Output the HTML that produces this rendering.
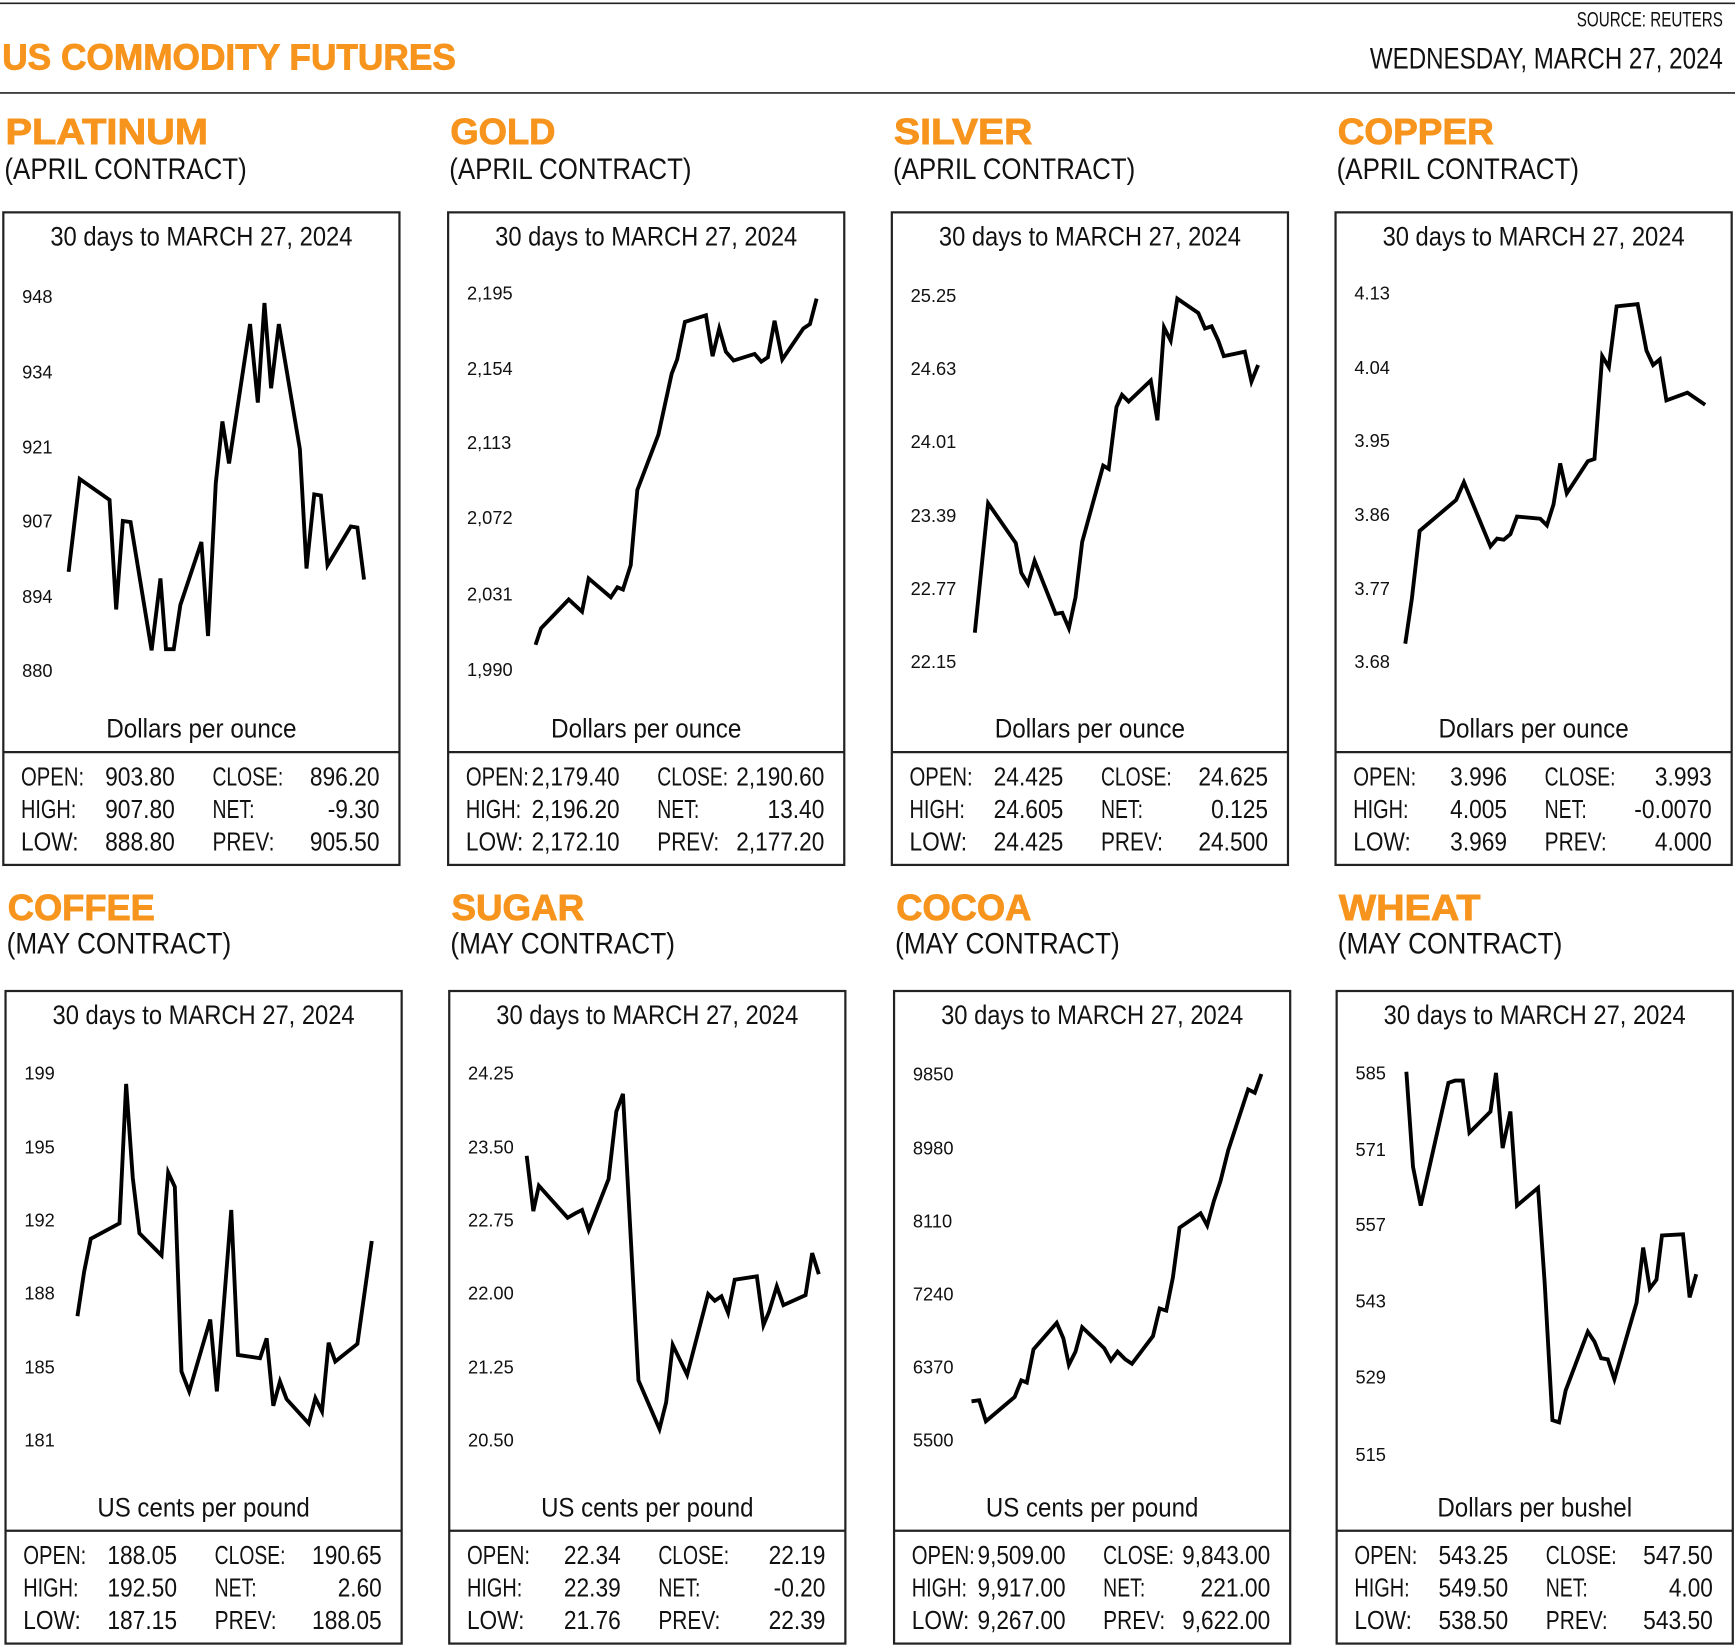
<!DOCTYPE html>
<html><head><meta charset="utf-8"><style>
html,body{margin:0;padding:0;background:#fff;}
svg{display:block;}
text{font-family:"Liberation Sans",sans-serif;fill:#111;}
.t{font-family:"Liberation Sans",sans-serif;font-weight:bold;fill:#F7941D;stroke:#F7941D;stroke-width:0.8;}
</style></head><body>
<svg id="s" width="1735" height="1648" viewBox="0 0 1568 1490" preserveAspectRatio="none" xmlns="http://www.w3.org/2000/svg">
<line x1="0" y1="3" x2="1568" y2="3" stroke="#222" stroke-width="1.5"/>
<line x1="0" y1="84" x2="1568" y2="84" stroke="#222" stroke-width="1.5"/>
<text class="t" x="2" y="63" font-size="33" textLength="410" lengthAdjust="spacingAndGlyphs">US COMMODITY FUTURES</text>
<text x="1557" y="24" font-size="19" text-anchor="end" textLength="132" lengthAdjust="spacingAndGlyphs">SOURCE: REUTERS</text>
<text x="1557" y="62" font-size="27" text-anchor="end" textLength="319" lengthAdjust="spacingAndGlyphs">WEDNESDAY, MARCH 27, 2024</text>
<g id="g"></g>
</svg>
<script>
var P=[
{x:3,y:192,n:"PLATINUM",nl:183,c:"(APRIL CONTRACT)",u:"Dollars per ounce",ul:172,yl:["948","934","921","907","894","880"],yt:[268,336,404,471,539,606],
st:[["OPEN:","903.80","CLOSE:","896.20"],["HIGH:","907.80","NET:","-9.30"],["LOW:","888.80","PREV:","905.50"]],
d:[[62,517],[72,433],[99,452],[105,551],[111,471],[118,472],[137,588],[145,523],[150,587],[157,587],[163,547],[182,490],[188,575],[195,437],[201,381],[207,419],[226,293],[233,364],[239,274],[245,351],[252,293],[271,406],[277,514],[284,447],[290,448],[296,511],[317,476],[323,477],[329,524]]},
{x:405,y:192,n:"GOLD",nl:95,c:"(APRIL CONTRACT)",u:"Dollars per ounce",ul:172,yl:["2,195","2,154","2,113","2,072","2,031","1,990"],yt:[265,333,400,468,537,605],
st:[["OPEN:","2,179.40","CLOSE:","2,190.60"],["HIGH:","2,196.20","NET:","13.40"],["LOW:","2,172.10","PREV:","2,177.20"]],
d:[[484,583],[489,568],[514,542],[526,553],[532,523],[552,540],[558,531],[563,533],[570,511],[576,443],[595,393],[607,338],[612,325],[619,291],[638,285],[644,322],[650,297],[656,318],[663,326],[682,320],[688,327],[694,323],[700,290],[707,325],[726,297],[732,293],[738,270]]},
{x:806,y:192,n:"SILVER",nl:125,c:"(APRIL CONTRACT)",u:"Dollars per ounce",ul:172,yl:["25.25","24.63","24.01","23.39","22.77","22.15"],yt:[267,333,399,466,532,598],
st:[["OPEN:","24.425","CLOSE:","24.625"],["HIGH:","24.605","NET:","0.125"],["LOW:","24.425","PREV:","24.500"]],
d:[[881,572],[893,455],[918,491],[923,518],[929,528],[935,507],[954,555],[960,554],[966,568],[972,540],[978,490],[997,421],[1002,424],[1009,368],[1014,357],[1020,363],[1040,344],[1046,380],[1052,296],[1058,308],[1064,270],[1083,283],[1089,297],[1095,295],[1101,308],[1106,322],[1125,318],[1131,345],[1137,330]]},
{x:1207,y:192,n:"COPPER",nl:141,c:"(APRIL CONTRACT)",u:"Dollars per ounce",ul:172,yl:["4.13","4.04","3.95","3.86","3.77","3.68"],yt:[265,332,398,465,532,598],
st:[["OPEN:","3.996","CLOSE:","3.993"],["HIGH:","4.005","NET:","-0.0070"],["LOW:","3.969","PREV:","4.000"]],
d:[[1270,582],[1276,541],[1283,480],[1316,452],[1323,436],[1347,494],[1353,487],[1359,488],[1365,483],[1371,467],[1392,469],[1398,475],[1404,456],[1410,419],[1416,446],[1435,417],[1441,415],[1448,322],[1454,332],[1461,277],[1480,275],[1488,317],[1494,330],[1500,325],[1506,362],[1525,355],[1541,366]]},
{x:5,y:896,n:"COFFEE",nl:133,c:"(MAY CONTRACT)",u:"US cents per pound",ul:192,yl:["199","195","192","188","185","181"],yt:[970,1037,1103,1169,1236,1302],
st:[["OPEN:","188.05","CLOSE:","190.65"],["HIGH:","192.50","NET:","2.60"],["LOW:","187.15","PREV:","188.05"]],
d:[[70,1190],[76,1150],[82,1120],[108,1106],[114,980],[120,1065],[126,1115],[146,1135],[152,1060],[158,1073],[164,1240],[171,1258],[190,1193],[196,1258],[203,1170],[209,1094],[215,1225],[235,1228],[241,1210],[247,1271],[253,1249],[259,1265],[279,1287],[285,1264],[291,1276],[297,1214],[303,1231],[323,1215],[336,1122]]},
{x:406,y:896,n:"SUGAR",nl:120,c:"(MAY CONTRACT)",u:"US cents per pound",ul:192,yl:["24.25","23.50","22.75","22.00","21.25","20.50"],yt:[970,1037,1103,1169,1236,1302],
st:[["OPEN:","22.34","CLOSE:","22.19"],["HIGH:","22.39","NET:","-0.20"],["LOW:","21.76","PREV:","22.39"]],
d:[[476,1045],[482,1095],[487,1072],[513,1101],[520,1097],[526,1094],[532,1112],[550,1066],[557,1005],[563,989],[577,1248],[596,1292],[602,1268],[608,1216],[621,1243],[640,1170],[646,1176],[652,1172],[658,1187],[664,1157],[684,1154],[690,1198],[695,1186],[702,1163],[708,1180],[728,1171],[734,1133],[740,1152]]},
{x:808,y:896,n:"COCOA",nl:122,c:"(MAY CONTRACT)",u:"US cents per pound",ul:192,yl:["9850","8980","8110","7240","6370","5500"],yt:[971,1038,1104,1170,1236,1302],
st:[["OPEN:","9,509.00","CLOSE:","9,843.00"],["HIGH:","9,917.00","NET:","221.00"],["LOW:","9,267.00","PREV:","9,622.00"]],
d:[[878,1267],[885,1266],[891,1285],[917,1263],[923,1248],[928,1250],[934,1220],[955,1196],[961,1210],[966,1234],[972,1222],[978,1200],[998,1219],[1004,1230],[1010,1222],[1017,1229],[1023,1233],[1042,1208],[1048,1183],[1054,1185],[1060,1155],[1066,1110],[1085,1097],[1091,1108],[1097,1086],[1103,1068],[1110,1040],[1128,985],[1134,988],[1140,971]]},
{x:1208,y:896,n:"WHEAT",nl:128,c:"(MAY CONTRACT)",u:"Dollars per bushel",ul:176,yl:["585","571","557","543","529","515"],yt:[970,1039,1107,1176,1245,1315],
st:[["OPEN:","543.25","CLOSE:","547.50"],["HIGH:","549.50","NET:","4.00"],["LOW:","538.50","PREV:","543.50"]],
d:[[1271,969],[1277,1055],[1284,1090],[1309,979],[1315,977],[1322,977],[1328,1024],[1347,1005],[1352,970],[1358,1038],[1365,1005],[1371,1090],[1390,1074],[1396,1160],[1403,1284],[1409,1286],[1415,1257],[1435,1204],[1441,1213],[1447,1228],[1453,1229],[1459,1247],[1479,1178],[1485,1128],[1491,1165],[1497,1157],[1502,1117],[1521,1116],[1527,1173],[1533,1152]]}
];
var LW={"OPEN:":57,"HIGH:":50,"LOW:":52,"CLOSE:":64,"NET:":38,"PREV:":56};
function vw(s){var w=0;for(var i=0;i<s.length;i++){var c=s[i];w+=(c=="."||c==",")?5:(c=="-"?7:11.6);}return w;}
var h="";
P.forEach(function(p,k){
 var x=p.x,y=p.y,w=358,H=590,sep=y+488,r2=k>=4;
 h+='<text class="t" x="'+(x+2)+'" y="'+(y-(r2?64:62))+'" font-size="33" textLength="'+p.nl+'" lengthAdjust="spacingAndGlyphs">'+p.n+'</text>';
 h+='<text x="'+(x+1)+'" y="'+(y-(r2?34:30))+'" font-size="27" textLength="'+(p.c.length>15?219:203)+'" lengthAdjust="spacingAndGlyphs">'+p.c+'</text>';
 h+='<rect x="'+x+'" y="'+y+'" width="'+w+'" height="'+H+'" fill="none" stroke="#222" stroke-width="2"/>';
 h+='<line x1="'+x+'" y1="'+sep+'" x2="'+(x+w)+'" y2="'+sep+'" stroke="#222" stroke-width="2"/>';
 h+='<text x="'+(x+w/2)+'" y="'+(y+30)+'" font-size="24" text-anchor="middle" textLength="273" lengthAdjust="spacingAndGlyphs">30 days to MARCH 27, 2024</text>';
 h+='<text x="'+(x+w/2)+'" y="'+(y+475)+'" font-size="24" text-anchor="middle" textLength="'+p.ul+'" lengthAdjust="spacingAndGlyphs">'+p.u+'</text>';
 p.yl.forEach(function(l,i){h+='<text x="'+(x+17)+'" y="'+(p.yt[i]+6)+'" font-size="16.5">'+l+'</text>';});
 h+='<polyline fill="none" stroke="#000" stroke-width="3.5" stroke-linejoin="miter" points="'+p.d.map(function(q){return q.join(",")}).join(" ")+'"/>';
 p.st.forEach(function(r,i){var yy=y+518+i*29.5;
  h+='<text x="'+(x+16)+'" y="'+yy+'" font-size="23" textLength="'+LW[r[0]]+'" lengthAdjust="spacingAndGlyphs">'+r[0]+'</text>';
  h+='<text x="'+(x+155)+'" y="'+yy+'" font-size="23" text-anchor="end" textLength="'+vw(r[1])+'" lengthAdjust="spacingAndGlyphs">'+r[1]+'</text>';
  h+='<text x="'+(x+189)+'" y="'+yy+'" font-size="23" textLength="'+LW[r[2]]+'" lengthAdjust="spacingAndGlyphs">'+r[2]+'</text>';
  h+='<text x="'+(x+340)+'" y="'+yy+'" font-size="23" text-anchor="end" textLength="'+vw(r[3])+'" lengthAdjust="spacingAndGlyphs">'+r[3]+'</text>';
 });
});
document.getElementById("g").innerHTML=h;
</script>
</body></html>
